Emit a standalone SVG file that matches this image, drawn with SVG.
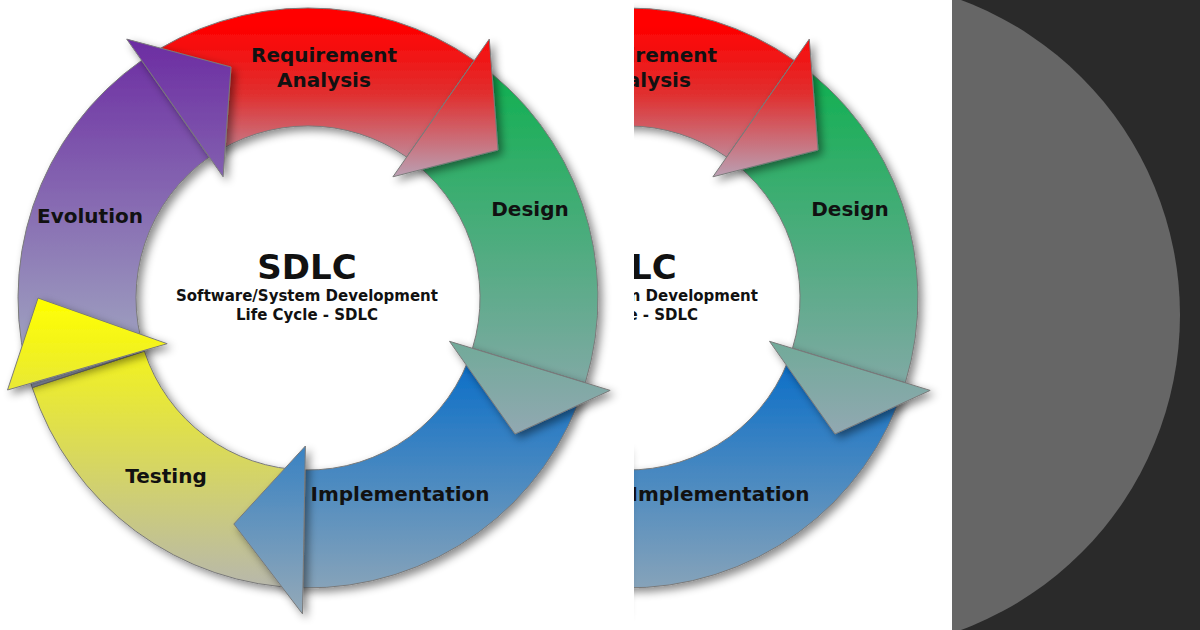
<svg xmlns="http://www.w3.org/2000/svg" xmlns:xlink="http://www.w3.org/1999/xlink" width="1200" height="630" viewBox="0 0 1200 630">
<style>
.a{stroke:#7a7a7a;stroke-width:1}
.t{font-family:"DejaVu Sans",Verdana,sans-serif;font-weight:bold;fill:#111;text-anchor:middle}
</style>
<defs>
<filter id="sh" x="-20%" y="-20%" width="140%" height="140%"><feDropShadow dx="4" dy="4" stdDeviation="4" flood-color="#000" flood-opacity="0.45"/></filter>
<linearGradient id="gr" gradientUnits="userSpaceOnUse" x1="0" y1="25" x2="0" y2="180"><stop offset="0" stop-color="#ff0000"/><stop offset="0.45" stop-color="#e03030"/><stop offset="1" stop-color="#b8a4b8"/></linearGradient>
<linearGradient id="gg" gradientUnits="userSpaceOnUse" x1="0" y1="70" x2="0" y2="435"><stop offset="0" stop-color="#10b050"/><stop offset="1" stop-color="#92a8b2"/></linearGradient>
<linearGradient id="gb" gradientUnits="userSpaceOnUse" x1="0" y1="360" x2="0" y2="610"><stop offset="0" stop-color="#0a6ec8"/><stop offset="1" stop-color="#92a8b8"/></linearGradient>
<linearGradient id="gy" gradientUnits="userSpaceOnUse" x1="0" y1="300" x2="0" y2="585"><stop offset="0" stop-color="#ffff00"/><stop offset="1" stop-color="#b8b8aa"/></linearGradient>
<linearGradient id="gp" gradientUnits="userSpaceOnUse" x1="0" y1="40" x2="0" y2="370"><stop offset="0" stop-color="#6c2ca2"/><stop offset="1" stop-color="#a2aac2"/></linearGradient>
<clipPath id="c2"><rect x="634" y="0" width="318" height="630"/></clipPath>
<clipPath id="c3"><rect x="952" y="0" width="248" height="630"/></clipPath>
</defs>
<rect width="1200" height="630" fill="#fff"/>
<g id="ring">
<g id="bodies" filter="url(#sh)">
<path class="a" fill="url(#gr)" d="M141.7,60.4 A290,290 0 0 1 474.3,60.4 L406.7,157.1 A172,172 0 0 0 209.3,157.1 Z"/>
<path class="a" fill="url(#gg)" d="M474.3,60.4 A290,290 0 0 1 585.3,382.8 L472.5,348.3 A172,172 0 0 0 406.7,157.1 Z"/>
<path class="a" fill="url(#gb)" d="M585.3,382.8 A290,290 0 0 1 302.9,587.9 L305,470 A172,172 0 0 0 472.5,348.3 Z"/>
<path class="a" fill="url(#gy)" d="M302.9,587.9 A290,290 0 0 1 32.2,387.6 L144.4,351.1 A172,172 0 0 0 305,470 Z"/>
<path class="a" fill="url(#gp)" d="M32.2,387.6 A290,290 0 0 1 141.7,60.4 L209.3,157.1 A172,172 0 0 0 144.4,351.1 Z"/>
</g>
<g id="heads">
<path class="a" fill="url(#gr)" filter="url(#sh)" d="M489.3,39.1 L498,150 L392.9,176.8 Z"/>
<path class="a" fill="url(#gg)" filter="url(#sh)" d="M610.2,390.4 L515,434 L449.5,341.3 Z"/>
<path class="a" fill="url(#gb)" filter="url(#sh)" d="M302.5,613.9 L233.8,524 L305.4,446 Z"/>
<path class="a" fill="url(#gy)" filter="url(#sh)" d="M7.5,390 L38,298 L167.2,343.7 Z"/>
<path class="a" fill="url(#gp)" filter="url(#sh)" d="M126.7,39.1 L231,67 L223.1,176.8 Z"/>
</g>
<g id="labels">
<text class="t" x="324" y="62" font-size="20">Requirement</text>
<text class="t" x="324" y="87" font-size="20">Analysis</text>
<text class="t" x="530" y="216" font-size="20">Design</text>
<text class="t" x="90" y="223" font-size="20">Evolution</text>
<text class="t" x="166" y="483" font-size="20">Testing</text>
<text class="t" x="400" y="501" font-size="20">Implementation</text>
<text class="t" x="307" y="279" font-size="34">SDLC</text>
<text class="t" x="307" y="301" font-size="15">Software/System Development</text>
<text class="t" x="307" y="320" font-size="15">Life Cycle - SDLC</text>
</g>
</g>
<g clip-path="url(#c2)"><rect x="634" y="0" width="318" height="630" fill="#fff"/><use xlink:href="#ring" href="#ring" x="320"/></g>
<g clip-path="url(#c3)"><rect x="952" y="0" width="248" height="630" fill="#2a2a2a"/><circle cx="844" cy="315" r="336" fill="#666"/></g>
</svg>
